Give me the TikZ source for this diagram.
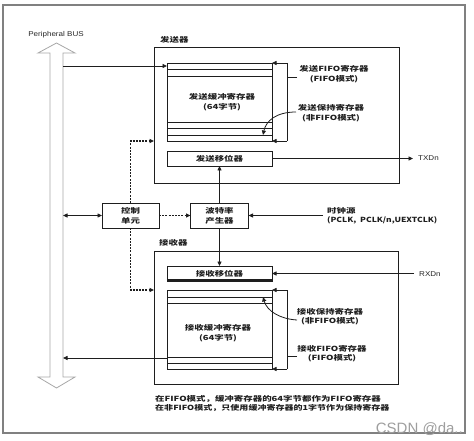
\documentclass[tikz,border=0pt]{standalone}
\usepackage{fontspec}
\usetikzlibrary{arrows.meta}
\newfontfamily\cjk[FakeStretch=1.35]{Noto Sans CJK SC}
\newfontfamily\cjknarrow[FakeStretch=1.22]{Noto Sans CJK SC}
\newfontfamily\cjknote[FakeStretch=1.29]{Noto Sans CJK SC}
\newfontfamily\lsans[FakeStretch=1.15]{Liberation Sans}
\newfontfamily\wsans{Liberation Sans}
\definecolor{linec}{HTML}{1E1E1E}
\definecolor{framec}{HTML}{808080}
\definecolor{busc}{HTML}{A8A8A8}
\begin{document}
\begin{tikzpicture}[x=1pt,y=-1pt,
  box/.style={draw=linec, line width=0.9pt, inner sep=0pt, outer sep=0pt,
    font=\cjk\bfseries\fontsize{7}{10}\selectfont, align=center, text=linec},
  lbl/.style={font=\cjk\bfseries\fontsize{7}{9.5}\selectfont, align=center, inner sep=0pt, text=linec},
  tip/.tip={Triangle[length=4.5pt,width=4pt]},
  arr/.style={-tip, line width=0.8pt, draw=linec},
  dsh/.style={-tip, draw=linec, line width=1.1pt, dash pattern=on 2pt off 1.2pt}]
\useasboundingbox (0,0) rectangle (474,441);
% outer frame
\draw[framec, line width=1.3pt] (3,5) rectangle (465,433);
% peripheral bus
\draw[busc, line width=0.8pt, fill=white] (50,53) -- (38,53) -- (56.5,43) -- (75,53) -- (63,53)
  -- (63,377) -- (75,377) -- (56.5,388) -- (38,377) -- (50,377) -- cycle;
\node[font=\lsans\fontsize{7}{8}\selectfont, text=black!85, inner sep=0pt] (buslbl) at (56,35) {Peripheral BUS};
\coordinate (busTx) at (63,66);
\coordinate (busCt) at (63,215.5);
\coordinate (busRx) at (63,358);

% transmitter
\node[box, minimum width=245pt, minimum height=136pt] (txbox) at (276.5,115) {};
\node[lbl, anchor=west] (txlbl) at (160,40) {发送器};
\node[box, minimum width=105pt, minimum height=78pt] (txbuf) at (219.5,102) {};
\foreach \yy in {69,76,122,128,135} \draw[linec, line width=0.9pt] (txbuf.west |- 0,\yy) -- (txbuf.east |- 0,\yy);
\node[lbl] (txbuftext) at (222,102) {发送缓冲寄存器\\(64字节)};
\node[box, minimum width=105pt, minimum height=15pt] (txshift) at (219.5,158.5) {发送移位器};

% tx bracket
\coordinate (txbT) at (287,63);
\coordinate (txbB) at (287,141);
\coordinate (txbS) at (297,77);
\draw[linec, line width=0.8pt] (txbT) -- (txbB);
\draw[linec, line width=0.8pt] (txbS) -- (txbS -| txbT);
\draw[arr] (txbT) -- (txbT -| txbuf.east);
\draw[arr] (txbB) -- (txbB -| txbuf.east);
\node[lbl] (txfifo) at (334,74) {发送FIFO寄存器\\(FIFO模式)};
\node[lbl] (txhold) at (331,113) {发送保持寄存器\\(非FIFO模式)};
\coordinate (txhs) at (296,112);
\coordinate (txht) at (263,135);
\draw[arr] (txhs) .. controls (276,112) and (266,121) .. (txht);

% TXDn
\coordinate (txd) at (413,158.5);
\draw[arr] (txshift.east) -- (txd);
\node[font=\lsans\fontsize{7}{8}\selectfont, text=black!85, anchor=west, inner sep=0pt] (txdlbl) at (418,158) {TXDn};

% bus to tx buffer
\draw[arr] (busTx) -- (busTx -| txbuf.west);

% control and baud
\node[box, minimum width=57pt, minimum height=25pt] (ctrl) at (130.5,215.5) {控制\\单元};
\node[box, minimum width=58pt, minimum height=25pt] (baud) at (219.5,215.5) {波特率\\产生器};
\draw[line width=0.8pt, draw=linec, tip-tip] (busCt) -- (ctrl.west);
\draw[dsh] (ctrl.east) -- (baud.west);
\coordinate (ctT) at (154,141);
\coordinate (ctB) at (154,290);
\draw[dsh] (ctrl.north) |- (ctT);
\draw[dsh] (ctrl.south) |- (ctB);
\draw[arr] (baud.north) -- (txshift.south);
\coordinate (clk) at (323,215.5);
\draw[arr] (clk) -- (baud.east);
\node[lbl, anchor=west] (clk1) at (327,210.5) {时钟源};
\node[lbl, anchor=west, font=\cjknarrow\bfseries\fontsize{7}{9.5}\selectfont] (clk2) at (327,220.5) {(PCLK,\ \ PCLK/n,UEXTCLK)};

% receiver
\node[box, minimum width=244pt, minimum height=133pt] (rxbox) at (276,317.5) {};
\node[lbl, anchor=west] (rxlbl) at (159,243) {接收器};
\node[box, minimum width=105pt, minimum height=15pt] (rxshift) at (219.5,273.5) {接收移位器};
\draw[linec, line width=1.8pt] (rxshift.south west |- 0,280) -- (rxshift.south east |- 0,280);
\draw[arr] (baud.south) -- (rxshift.north);
\node[box, minimum width=105pt, minimum height=79pt] (rxbuf) at (219.5,329.5) {};
\foreach \yy in {297,303,357,363} \draw[linec, line width=0.9pt] (rxbuf.west |- 0,\yy) -- (rxbuf.east |- 0,\yy);
\node[lbl] (rxbuftext) at (218,333) {接收缓冲寄存器\\(64字节)};

% RXDn
\coordinate (rxd) at (414,273.5);
\draw[arr] (rxd) -- (rxshift.east);
\node[font=\lsans\fontsize{7}{8}\selectfont, text=black!85, anchor=west, inner sep=0pt] (rxdlbl) at (419,274) {RXDn};

% rx bracket
\coordinate (rxbT) at (287,290);
\coordinate (rxbB) at (287,369);
\coordinate (rxbS) at (297,356);
\draw[linec, line width=0.8pt] (rxbT) -- (rxbB);
\draw[linec, line width=0.8pt] (rxbS) -- (rxbS -| rxbT);
\draw[arr] (rxbT) -- (rxbT -| rxbuf.east);
\draw[arr] (rxbB) -- (rxbB -| rxbuf.east);
\node[lbl] (rxhold) at (330,316.5) {接收保持寄存器\\(非FIFO模式)};
\node[lbl] (rxfifo) at (332,353.5) {接收FIFO寄存器\\(FIFO模式)};
\coordinate (rxhs) at (297,320);
\coordinate (rxht) at (263,297);
\draw[arr] (rxhs) .. controls (280,319) and (267,311) .. (rxht);

% rx buffer to bus
\draw[arr] (rxbuf.west |- busRx) -- (busRx);

% notes
\node[lbl, anchor=west] (note1) at (155,399) {在FIFO模式，缓冲寄存器的64字节都作为FIFO寄存器};
\node[lbl, anchor=west, font=\cjknote\bfseries\fontsize{7}{9.5}\selectfont] (note2) at (155,408) {在非FIFO模式，只使用缓冲寄存器的1字节作为保持寄存器};

% watermark
\node[font=\wsans\fontsize{15}{16}\selectfont, text=black!38, anchor=east, inner sep=0pt] (wm) at (463,429) {CSDN @da..};
\end{tikzpicture}
\end{document}
